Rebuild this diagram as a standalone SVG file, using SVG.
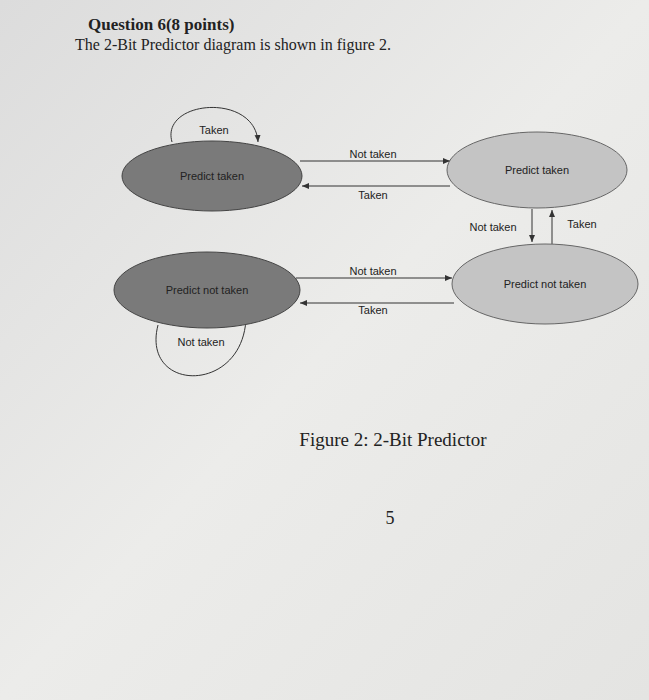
<svg xmlns="http://www.w3.org/2000/svg" width="649" height="700" viewBox="0 0 649 700">
<defs>
<linearGradient id="bg" x1="0" y1="0" x2="1" y2="1"><stop offset="0" stop-color="#dcdcdc"/><stop offset="0.5" stop-color="#ececea"/><stop offset="1" stop-color="#e4e4e2"/></linearGradient>
<marker id="ah" markerWidth="8" markerHeight="8" refX="7" refY="4" orient="auto" markerUnits="userSpaceOnUse"><path d="M0,1 L7,4 L0,7 z" fill="#333"/></marker>
</defs>
<style>
.serif{font-family:"Liberation Serif",serif;fill:#222}
.lbl{font-family:"Liberation Sans",Arial,sans-serif;font-size:11px;fill:#222;text-anchor:middle}
.dark{fill:#7a7a7a;stroke:#444;stroke-width:1}
.light{fill:#c4c4c4;stroke:#666;stroke-width:1}
.edge{stroke:#333;stroke-width:1;fill:none;marker-end:url(#ah)}
</style>
<rect width="649" height="700" fill="url(#bg)"/>
<text class="serif" x="88" y="30" font-size="17" font-weight="bold">Question 6(8 points)</text>
<text class="serif" x="75" y="50" font-size="16">The 2-Bit Predictor diagram is shown in figure 2.</text>
<g id="connectors">
<path class="edge" d="M172,142 C160,100 255,92 258,142"/>
<path class="edge" d="M300,161 L450,161"/>
<path class="edge" d="M450,186 L302,186"/>
<path class="edge" d="M532,209 L532,242"/>
<path class="edge" d="M552,244 L552,210"/>
<path class="edge" d="M296,278 L452,278"/>
<path class="edge" d="M454,303 L300,303"/>
<path class="edge" d="M158,325 C140,395 250,395 246,310"/>
<text class="lbl" x="214" y="134">Taken</text>
<text class="lbl" x="373" y="158">Not taken</text>
<text class="lbl" x="373" y="199">Taken</text>
<text class="lbl" x="493" y="231">Not taken</text>
<text class="lbl" x="582" y="228">Taken</text>
<text class="lbl" x="373" y="275">Not taken</text>
<text class="lbl" x="373" y="314">Taken</text>
<text class="lbl" x="201" y="346">Not taken</text>
</g>
<g id="n1"><ellipse class="dark" cx="212" cy="176" rx="90" ry="35"/><text class="lbl" x="212" y="180">Predict taken</text></g>
<g id="n2"><ellipse class="light" cx="537" cy="170" rx="90" ry="38"/><text class="lbl" x="537" y="174">Predict taken</text></g>
<g id="n3"><ellipse class="dark" cx="207" cy="290" rx="93" ry="38"/><text class="lbl" x="207" y="294">Predict not taken</text></g>
<g id="n4"><ellipse class="light" cx="545" cy="284" rx="93" ry="40"/><text class="lbl" x="545" y="288">Predict not taken</text></g>
<text class="serif" x="393" y="446" font-size="19" text-anchor="middle">Figure 2: 2-Bit Predictor</text>
<text class="serif" x="390" y="524" font-size="18" text-anchor="middle">5</text>
</svg>
